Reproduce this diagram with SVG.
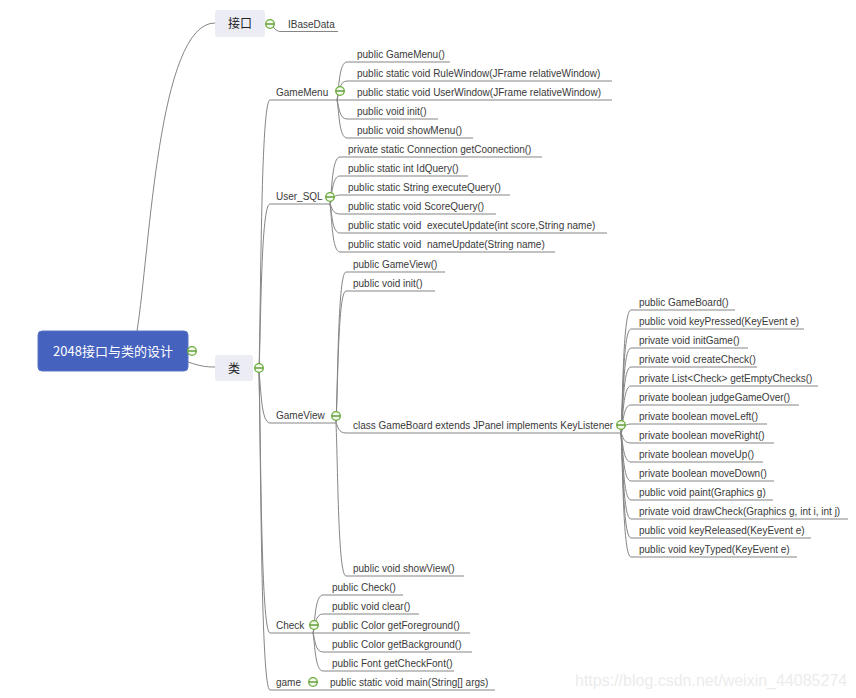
<svg xmlns="http://www.w3.org/2000/svg" xmlns:xlink="http://www.w3.org/1999/xlink" width="856" height="698" viewBox="0 0 856 698">
<style>
.t{font-family:"Liberation Sans",Arial,sans-serif;font-size:10px;fill:#3a3a3a;white-space:pre}
.ln{fill:none;stroke:#858585;stroke-width:1}
.box{fill:#ebecf4}
.cjk{font-family:"Noto Sans CJK SC","Noto Sans",sans-serif;text-anchor:middle}
</style>
<defs>
<g id="btn"><circle cx="0" cy="0" r="4.3" fill="#f2f9ea" stroke="#6aab38" stroke-width="1.3"/><path d="M-4,0H4" stroke="#4e8f26" stroke-width="1.3"/></g>
</defs>
<rect width="856" height="698" fill="#fff"/>
<g id="connectors">
<path class="ln" d="M137,331 C150,250 158,23 215,23"/>
<path class="ln" d="M188,362 C200,366 205,367 215,367"/>
<path class="ln" d="M273,27 C276,30 277,31.5 281,31.5 H338"/>
<path class="ln" d="M259,372 C261,291 261,100 270,100 H337"/>
<path class="ln" d="M259,372 C261,322 261,204 270,204 H330"/>
<path class="ln" d="M259,372 C261,387 261,423 270,423 H336"/>
<path class="ln" d="M259,372 C261,450 261,633 270,633 H313"/>
<path class="ln" d="M259,372 C261,467 261,690 270,690 H495"/>
<path class="ln" d="M337,100 C339,89 339,62 347,62 H450"/>
<path class="ln" d="M337,100 C339,94 339,81 347,81 H612"/>
<path class="ln" d="M337,100 H612"/>
<path class="ln" d="M337,100 C339,106 339,119 347,119 H438"/>
<path class="ln" d="M337,100 C339,111 339,138 347,138 H473"/>
<path class="ln" d="M330,204 C332,190 332,157 340,157 H542"/>
<path class="ln" d="M330,204 C332,196 332,176 340,176 H468"/>
<path class="ln" d="M330,204 C332,201 332,195 340,195 H510"/>
<path class="ln" d="M330,204 C332,207 332,214 340,214 H496"/>
<path class="ln" d="M330,204 C332,213 332,233 340,233 H607"/>
<path class="ln" d="M330,204 C332,218 332,252 340,252 H555"/>
<path class="ln" d="M336,423 C338,378 338,272 346,272 H445"/>
<path class="ln" d="M336,423 C338,384 338,291 346,291 H435"/>
<path class="ln" d="M336,423 C338,426 338,433 346,433 H620"/>
<path class="ln" d="M336,423 C338,469 338,576 346,576 H464"/>
<path class="ln" d="M621,433 C623,396 623,310 631,310 H735"/>
<path class="ln" d="M621,433 C623,402 623,329 631,329 H804"/>
<path class="ln" d="M621,433 C623,408 623,348 631,348 H748"/>
<path class="ln" d="M621,433 C623,413 623,367 631,367 H757"/>
<path class="ln" d="M621,433 C623,419 623,386 631,386 H818"/>
<path class="ln" d="M621,433 C623,425 623,405 631,405 H799"/>
<path class="ln" d="M621,433 C623,430 623,424 631,424 H767"/>
<path class="ln" d="M621,433 C623,436 623,443 631,443 H774"/>
<path class="ln" d="M621,433 C623,442 623,462 631,462 H763"/>
<path class="ln" d="M621,433 C623,447 623,481 631,481 H774"/>
<path class="ln" d="M621,433 C623,453 623,500 631,500 H773"/>
<path class="ln" d="M621,433 C623,459 623,519 631,519 H848"/>
<path class="ln" d="M621,433 C623,464 623,538 631,538 H811"/>
<path class="ln" d="M621,433 C623,470 623,557 631,557 H797"/>
<path class="ln" d="M313,633 C315,622 315,595 323,595 H403"/>
<path class="ln" d="M313,633 C315,627 315,614 323,614 H419"/>
<path class="ln" d="M313,633 H470"/>
<path class="ln" d="M313,633 C315,639 315,652 323,652 H472"/>
<path class="ln" d="M313,633 C315,644 315,671 323,671 H454"/>
</g>
<g id="root">
<rect x="38" y="331" width="150" height="40" rx="4" fill="#4562be" stroke="#5a74c8" stroke-width="1"/>
<text class="cjk" x="113" y="355.5" font-size="13" fill="#fff">2048接口与类的设计</text>
<use xlink:href="#btn" x="192" y="351"/>
</g>
<g id="node-interface">
<rect class="box" x="215" y="10" width="50" height="27" rx="3"/>
<text class="cjk" x="240" y="27.5" font-size="12" fill="#222">接口</text>
<use xlink:href="#btn" x="270" y="24"/>
<text class="t" x="288" y="27.5">IBaseData</text>
</g>
<g id="node-class">
<rect class="box" x="215" y="355" width="38" height="26" rx="3"/>
<text class="cjk" x="234" y="372.5" font-size="12" fill="#222">类</text>
<use xlink:href="#btn" x="259" y="368"/>
</g>
<g id="node-gamemenu">
<text class="t" x="276" y="95.5">GameMenu</text>
<use xlink:href="#btn" x="340" y="91"/>
<text class="t" x="357" y="57.5">public GameMenu()</text>
<text class="t" x="357" y="76.5">public static void RuleWindow(JFrame relativeWindow)</text>
<text class="t" x="357" y="95.5">public static void UserWindow(JFrame relativeWindow)</text>
<text class="t" x="357" y="114.5">public void init()</text>
<text class="t" x="357" y="133.5">public void showMenu()</text>
</g>
<g id="node-usersql">
<text class="t" x="276" y="200">User_SQL</text>
<use xlink:href="#btn" x="330" y="197"/>
<text class="t" x="348" y="152.5">private static Connection getCoonection()</text>
<text class="t" x="348" y="171.5">public static int IdQuery()</text>
<text class="t" x="348" y="190.5">public static String executeQuery()</text>
<text class="t" x="348" y="209.5">public static void ScoreQuery()</text>
<text class="t" x="348" y="228.5">public static void  executeUpdate(int score,String name)</text>
<text class="t" x="348" y="247.5">public static void  nameUpdate(String name)</text>
</g>
<g id="node-gameview">
<text class="t" x="276" y="419">GameView</text>
<use xlink:href="#btn" x="336" y="416"/>
<text class="t" x="353" y="267.5">public GameView()</text>
<text class="t" x="353" y="286.5">public void init()</text>
<text class="t" x="353" y="428.5">class GameBoard extends JPanel implements KeyListener</text>
<text class="t" x="353" y="571.5">public void showView()</text>
</g>
<g id="node-gameboard">
<use xlink:href="#btn" x="621" y="425"/>
<text class="t" x="639" y="305.5">public GameBoard()</text>
<text class="t" x="639" y="324.5">public void keyPressed(KeyEvent e)</text>
<text class="t" x="639" y="343.5">private void initGame()</text>
<text class="t" x="639" y="362.5">private void createCheck()</text>
<text class="t" x="639" y="381.5">private List&lt;Check&gt; getEmptyChecks()</text>
<text class="t" x="639" y="400.5">private boolean judgeGameOver()</text>
<text class="t" x="639" y="419.5">private boolean moveLeft()</text>
<text class="t" x="639" y="438.5">private boolean moveRight()</text>
<text class="t" x="639" y="457.5">private boolean moveUp()</text>
<text class="t" x="639" y="476.5">private boolean moveDown()</text>
<text class="t" x="639" y="495.5">public void paint(Graphics g)</text>
<text class="t" x="639" y="514.5">private void drawCheck(Graphics g, int i, int j)</text>
<text class="t" x="639" y="533.5">public void keyReleased(KeyEvent e)</text>
<text class="t" x="639" y="552.5">public void keyTyped(KeyEvent e)</text>
</g>
<g id="node-check">
<text class="t" x="276" y="628.5">Check</text>
<use xlink:href="#btn" x="314" y="625"/>
<text class="t" x="332" y="590.5">public Check()</text>
<text class="t" x="332" y="609.5">public void clear()</text>
<text class="t" x="332" y="628.5">public Color getForeground()</text>
<text class="t" x="332" y="647.5">public Color getBackground()</text>
<text class="t" x="332" y="666.5">public Font getCheckFont()</text>
</g>
<g id="node-game">
<text class="t" x="276" y="685.5">game</text>
<use xlink:href="#btn" x="313" y="682"/>
<text class="t" x="330" y="685.5">public static void main(String[] args)</text>
</g>
<text x="575" y="686" font-family="Liberation Sans,Arial,sans-serif" font-size="16" fill="#ececec">https://blog.csdn.net/weixin_44085274</text>
</svg>
